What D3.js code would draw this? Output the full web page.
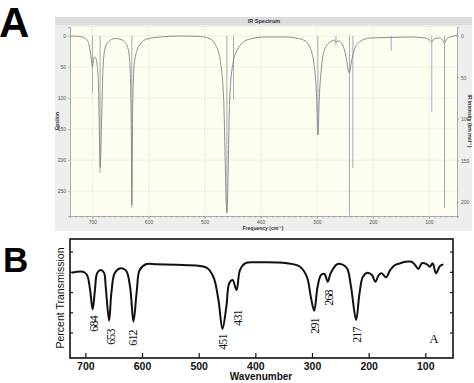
<!DOCTYPE html>
<html><head><meta charset="utf-8">
<script src="https://cdn.jsdelivr.net/npm/d3@7"></script>
<style>body{margin:0;background:#fff}svg{display:block}</style>
</head><body><svg id="c" width="474" height="383"></svg>
<script>
// ---------- Panel A data (calculated IR spectrum) ----------
const freqTicksA = [700, 600, 500, 400, 300, 200, 100];
const epsTicks = [0, 50, 100, 150, 200, 250];
const intTicks = [0, 50, 100, 150, 200];
// broadened curve: [frequency cm-1, epsilon]
const calcCurve = [
  [740,0],[722,0.8],[711.2,4.8],[705.9,14.5],[702.3,35.4],[700,50],[697.9,37],[695.2,33.8],
  [691.6,46.7],[689,87],[686.3,212],[683.6,135],[680.9,46.7],[677.3,19.3],[672,9.7],[659.5,4],
  [647,6.4],[638.1,16.1],[633.7,38.7],[631,119],[629.7,272],[628.3,119],[625.6,46.7],[620.3,22.6],
  [614.9,12.9],[602.4,4.8],[579.3,1.6],[543.6,0],[507.9,0.8],[490.1,4.8],[481.2,12.9],[472.3,38.7],
  [466,103],[460.3,285],[455.3,103],[449.1,41.9],[441.9,22.6],[433,11.3],[418.8,4.8],[392,1.6],
  [356.3,1.6],[333.1,4],[320.7,8],[311.8,19.3],[304.7,46.7],[300.1,103],[298,159.5],[295.7,103],
  [291.2,46.7],[285,19.3],[276.1,9.7],[269,6.4],[265.9,9.7],[261.8,8],[254.7,12.9],[248.4,30.6],
  [242.2,59.6],[238.6,43.5],[233.3,22.6],[224.3,9.7],[204.7,3.2],[167.3,2.4],[133.4,1.6],[106.7,3.2],
  [98.7,6.4],[95,9.7],[90.6,4.8],[81.7,3.2],[76.4,5.6],[72.2,11.3],[68.3,4.8],[62,1.6],[49.6,-0.8]
];
// stick spectrum
const stickFreq = [700, 686.3, 629.7, 460.3, 448.5, 298, 265.9, 241.6, 235.6, 167.3, 95, 72.2];
const stickInt  = [68.7, 165, 207, 213, 77, 119, 10.8, 216, 159, 18, 91.6, 207];

// ---------- Panel B data (experimental spectrum) ----------
const freqTicksB = [700, 600, 500, 400, 300, 200, 100];
const transTicksB = [21, 38, 55, 72, 89];
const expWavenumber = [725,705,698,693,688,684,680,674,668,665,659,655,649,639,629,622,616,610,605,593,
  575,528,487,475,466,459,452,447,441,434,428,419,398,345,322,310,303,297,291,285,279,273,268,257,248,
  239,232,223,217,211,203,195,189,183,178,170,163,154,145,136,125,119,113,107,98,93,88,82,75,69];
const expTransmission = [71.7,72.5,69.7,58.8,40.9,57.1,71.4,73.9,71.7,59.9,31.3,54.6,71.4,75.4,73.4,59.9,
  30.5,57.1,73.9,79.0,78.7,78.2,75.9,68.3,48.7,24.4,43.1,62.8,65.5,57.1,73.9,79.6,80.4,79.6,76.7,68.3,
  51.5,39.7,59.9,69.7,70.6,64.1,71.2,78.7,78.7,75.4,59.9,31.9,54.4,68.3,71.7,69.7,64.1,69.7,71.2,67.8,
  73.9,78.2,79.6,80.9,80.9,78.2,74.8,79.6,78.7,76.7,79.6,71.2,77.3,78.7];
const peakLabels  = ["684","653","612","451","431","291","268","217"];
const peakLabelAt = [686, 656, 617, 458, 432, 296, 271, 222];
const peakLabelT  = [28.6, 17.6, 16.8, 13.4, 33.6, 26.9, 50.4, 19.3];

const svg = d3.select("#c");
const sans = "'Liberation Sans', Arial, sans-serif";
const serif = "'Liberation Serif', 'Times New Roman', serif";

// ================= Panel A =================
svg.append("text").attr("x", -1).attr("y", 37).style("font", `bold 42px ${sans}`).text("A");
svg.append("rect").attr("x", 55).attr("y", 17).attr("width", 417).attr("height", 214).attr("fill", "#eeeeee");
svg.append("rect").attr("x", 55).attr("y", 17).attr("width", 417).attr("height", 8).attr("fill", "#dddddd");
svg.append("text").attr("x", 264).attr("y", 23.3).attr("text-anchor", "middle")
  .style("font", `bold 5.5px ${sans}`).attr("fill", "#333").text("IR Spectrum");

const xA = d3.scaleLinear().domain([740, 50]).range([70, 457]);
const yEps = d3.scaleLinear().domain([-14.5, 290]).range([27, 216]);
const yInt = d3.scaleLinear().domain([-10.8, 216.9]).range([27, 216]);

svg.append("rect").attr("x", 70).attr("y", 27).attr("width", 387).attr("height", 189)
  .attr("fill", "#fdfdf0");
// grid
const g = svg.append("g");
g.selectAll(".vg").data(freqTicksA).join("line")
  .attr("x1", d => xA(d)).attr("x2", d => xA(d)).attr("y1", 27).attr("y2", 216)
  .attr("stroke", "#ebebda").attr("stroke-width", 0.7);
g.selectAll(".hg").data(epsTicks).join("line")
  .attr("y1", d => yEps(d)).attr("y2", d => yEps(d)).attr("x1", 70).attr("x2", 457)
  .attr("stroke", "#ebebda").attr("stroke-width", 0.7);

// sticks
svg.append("g").selectAll("line").data(stickFreq).join("line")
  .attr("x1", d => xA(d)).attr("x2", d => xA(d))
  .attr("y1", yInt(0)).attr("y2", (d, i) => yInt(stickInt[i]))
  .attr("stroke", "#a8a8c2").attr("stroke-width", 1);

// curve
const lineA = d3.line().x(d => xA(d[0])).y(d => yEps(d[1])).curve(d3.curveMonotoneX);
svg.append("path").attr("d", lineA(calcCurve)).attr("fill", "none")
  .attr("stroke", "#8e8e8e").attr("stroke-width", 1);

function styleAxis(sel) {
  sel.selectAll("path").attr("stroke", "#9a9a9a").attr("stroke-width", 0.8);
  sel.selectAll("line").attr("stroke", "#9a9a9a").attr("stroke-width", 0.6);
  sel.selectAll("text").style("font", `5px ${sans}`).attr("fill", "#555");
}
const axL = svg.append("g").attr("transform", "translate(70,0)")
  .call(d3.axisLeft(yEps).tickValues(epsTicks).tickSize(2).tickPadding(2));
styleAxis(axL);
const axR = svg.append("g").attr("transform", "translate(457,0)")
  .call(d3.axisRight(yInt).tickValues(intTicks).tickSize(2).tickPadding(2));
styleAxis(axR);
const axBm = svg.append("g").attr("transform", "translate(0,216)")
  .call(d3.axisBottom(xA).tickValues(d3.range(740, 49, -10)).tickSize(2).tickFormat(""));
styleAxis(axBm);
const axB = svg.append("g").attr("transform", "translate(0,216)")
  .call(d3.axisBottom(xA).tickValues(freqTicksA).tickSize(3).tickPadding(1));
styleAxis(axB);
axB.select("path").remove();

svg.append("text").attr("transform", "translate(58.5,121) rotate(-90)").attr("text-anchor", "middle")
  .style("font", `bold 5px ${sans}`).attr("fill", "#333").text("Epsilon");
svg.append("text").attr("x", 263).attr("y", 229.5).attr("text-anchor", "middle")
  .style("font", `bold 5px ${sans}`).attr("fill", "#333").text("Frequency (cm\u207B\u00B9)");
svg.append("text").attr("transform", "translate(468,121) rotate(90)").attr("text-anchor", "middle")
  .style("font", `bold 5px ${sans}`).attr("fill", "#333").text("IR Intensity (km mol\u207B\u00B9)");

// ================= Panel B =================
svg.append("text").attr("x", 3).attr("y", 272).style("font", `bold 35px ${sans}`).text("B");

const xB = d3.scaleLinear().domain([728, 52]).range([70, 453]);
const yB = d3.scaleLinear().domain([0, 100]).range([358, 239]);

svg.append("rect").attr("x", 70).attr("y", 239).attr("width", 383).attr("height", 119)
  .attr("fill", "none").attr("stroke", "#111").attr("stroke-width", 1.6);

// inner ticks
svg.append("g").selectAll("line").data(freqTicksB).join("line")
  .attr("x1", d => xB(d)).attr("x2", d => xB(d)).attr("y1", 358).attr("y2", 353)
  .attr("stroke", "#111").attr("stroke-width", 1.2);
svg.append("g").selectAll("line").data(transTicksB).join("line")
  .attr("x1", 70).attr("x2", 73).attr("y1", d => yB(d)).attr("y2", d => yB(d))
  .attr("stroke", "#111").attr("stroke-width", 1.2);
svg.append("g").selectAll("line").data(transTicksB).join("line")
  .attr("x1", 453).attr("x2", 450).attr("y1", d => yB(d)).attr("y2", d => yB(d))
  .attr("stroke", "#111").attr("stroke-width", 1.2);

svg.append("g").selectAll("text").data(freqTicksB).join("text")
  .attr("x", d => xB(d)).attr("y", 369.5).attr("text-anchor", "middle")
  .style("font", `bold 10.5px ${sans}`).attr("fill", "#111").text(d => d);

svg.append("text").attr("x", 261).attr("y", 380.3).attr("text-anchor", "middle")
  .style("font", `bold 10px ${sans}`).attr("fill", "#111").text("Wavenumber");
svg.append("text").attr("transform", "translate(64,298) rotate(-90)").attr("text-anchor", "middle")
  .style("font", `10.5px ${sans}`).attr("fill", "#111").text("Percent Transmission");

const expData = expWavenumber.map((w, i) => [w, expTransmission[i]]);
const lineB = d3.line().x(d => xB(d[0])).y(d => yB(d[1])).curve(d3.curveCatmullRom.alpha(0.5));
svg.append("path").attr("d", lineB(expData)).attr("fill", "none")
  .attr("stroke", "#111").attr("stroke-width", 2).attr("stroke-linejoin", "round");

svg.append("g").selectAll("text").data(peakLabels).join("text")
  .attr("transform", (d, i) => `translate(${xB(peakLabelAt[i]) + 4},${yB(peakLabelT[i])}) rotate(-90)`)
  .attr("text-anchor", "middle")
  .style("font", `12px ${serif}`).style("letter-spacing", "-0.8px").attr("fill", "#111").text(d => d);

svg.append("text").attr("x", 434).attr("y", 343).attr("text-anchor", "middle")
  .style("font", `13px ${serif}`).attr("fill", "#111").text("A");
</script></body></html>
